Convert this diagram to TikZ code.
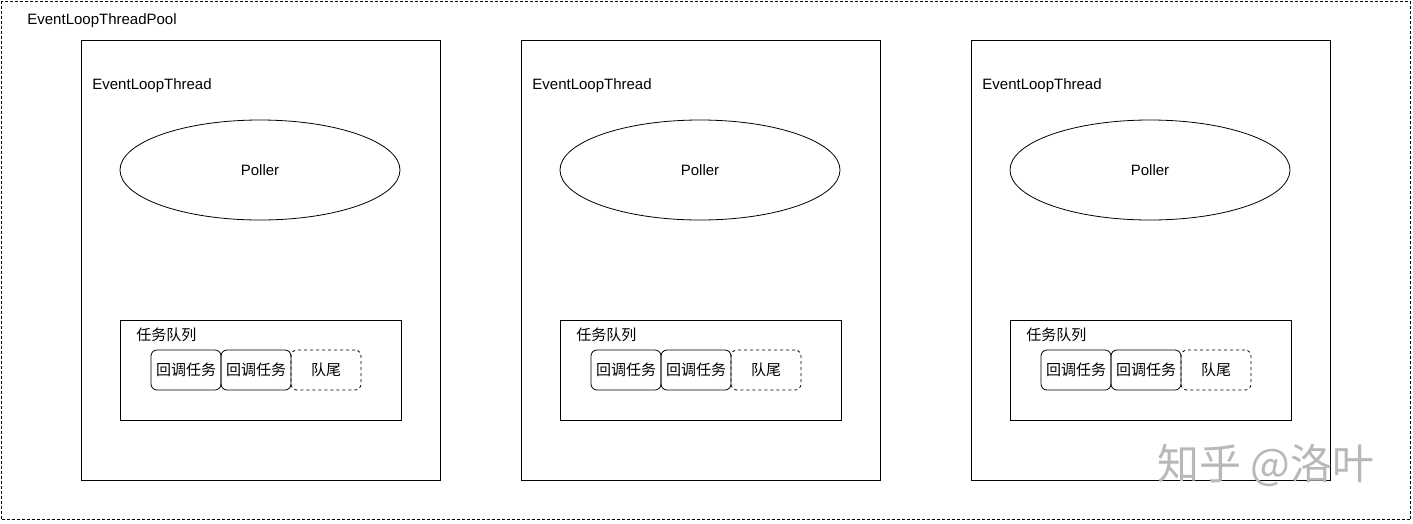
\documentclass[tikz,border=0pt]{standalone}
\usepackage{fontspec}
\setmainfont{Liberation Sans}
\newfontfamily\cjk{Noto Sans CJK SC}
\usetikzlibrary{shapes.geometric}
\tikzset{
  pool/.style={draw, dash pattern=on 3pt off 2pt, minimum width=1409pt, minimum height=518pt, inner sep=0pt},
  thread/.style={draw, minimum width=359pt, minimum height=440pt, inner sep=0pt},
  poller/.style={draw, ellipse, minimum width=280pt, minimum height=100pt},
  queue/.style={draw, minimum width=281pt, minimum height=100pt, inner sep=0pt},
  task/.style={draw, rounded corners=6pt, minimum width=70pt, minimum height=40pt, inner sep=0pt, font=\cjk\fontsize{15}{18}\selectfont},
  tail/.style={task, dashed},
  lbl/.style={anchor=west, inner sep=0pt, font=\fontsize{15}{18}\selectfont},
  cjklbl/.style={lbl, font=\cjk\fontsize{15}{18}\selectfont}
}
\begin{document}
\begin{tikzpicture}[x=1pt,y=-1pt,line width=0.8pt]
\useasboundingbox (0,0) rectangle (1413,523);
%\draw[help lines, step=100pt] (0,0) grid (1413,523);
\node[pool](pool) at (706,260.5) {};
\node[lbl](pooll) at (27,21) {EventLoopThreadPool};

% thread 1
\node[thread](t1) at (260.5,260) {};
\node[lbl](tl1) at (92,86) {EventLoopThread};
\node[poller](p1) at (260,170) {\fontsize{15}{18}\selectfont Poller};
\node[queue](q1) at (260.5,370) {};
\node[cjklbl](ql1) at (136,335) {任务队列};
\node[task](a1) at (186,370) {回调任务};
\node[task](b1) at (256,370) {回调任务};
\node[tail](e1) at (326,370) {队尾};

% thread 2
\node[thread](t2) at (700.5,260) {};
\node[lbl](tl2) at (532,86) {EventLoopThread};
\node[poller](p2) at (700,170) {\fontsize{15}{18}\selectfont Poller};
\node[queue](q2) at (700.5,370) {};
\node[cjklbl](ql2) at (576,335) {任务队列};
\node[task](a2) at (626,370) {回调任务};
\node[task](b2) at (696,370) {回调任务};
\node[tail](e2) at (766,370) {队尾};

% thread 3
\node[thread](t3) at (1150.5,260) {};
\node[lbl](tl3) at (982,86) {EventLoopThread};
\node[poller](p3) at (1150,170) {\fontsize{15}{18}\selectfont Poller};
\node[queue](q3) at (1150.5,370) {};
\node[cjklbl](ql3) at (1026,335) {任务队列};
\node[task](a3) at (1076,370) {回调任务};
\node[task](b3) at (1146,370) {回调任务};
\node[tail](e3) at (1216,370) {队尾};

% watermark
\node[text=black!28, font=\cjk\fontsize{42}{48}\selectfont](wm) at (1266,465) {知乎 @洛叶};
\end{tikzpicture}
\end{document}
